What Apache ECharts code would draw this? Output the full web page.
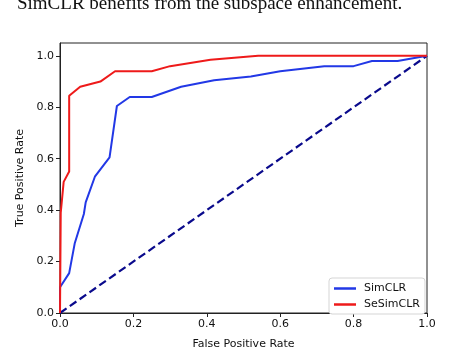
<!DOCTYPE html>
<html><head><meta charset="utf-8">
<script src="https://cdn.jsdelivr.net/npm/echarts@6/dist/echarts.min.js"></script>
<style>html,body{margin:0;padding:0;background:#fff}#c{width:474px;height:355px}</style>
</head><body><div id="c"></div>
<script>
const captionText = 'SimCLR benefits from the subspace enhancement.';
const seriesNames = ['SimCLR', 'SeSimCLR'];
const xTicks = [0, 0.2, 0.4, 0.6, 0.8, 1.0];
const yTicks = [0, 0.2, 0.4, 0.6, 0.8, 1.0];
const simclrFPR = [0, 0, 0.025, 0.04, 0.065, 0.07, 0.095, 0.135, 0.155, 0.19, 0.25, 0.33, 0.42, 0.52, 0.6, 0.72, 0.8, 0.85, 0.92, 1.0];
const simclrTPR = [0, 0.1, 0.155, 0.27, 0.385, 0.43, 0.53, 0.605, 0.805, 0.84, 0.84, 0.88, 0.905, 0.92, 0.94, 0.96, 0.96, 0.98, 0.98, 1.0];
const sesimFPR = [0, 0.002, 0.01, 0.025, 0.025, 0.055, 0.11, 0.15, 0.25, 0.30, 0.41, 0.54, 1.0];
const sesimTPR = [0, 0.39, 0.51, 0.55, 0.845, 0.88, 0.90, 0.94, 0.94, 0.96, 0.985, 1.0, 1.0];
const chanceFPR = [0, 1];
const chanceTPR = [0, 1];

const zip = (a, b) => a.map((v, i) => [v, b[i]]);
const font = 'DejaVu Sans';
const chart = echarts.init(document.getElementById('c'), null, {renderer: 'canvas'});
chart.setOption({
  animation: false,
  backgroundColor: '#fff',
  graphic: [{
    type: 'text', left: 17, top: -5,
    style: {text: captionText, font: '19px "Liberation Serif"', fill: '#111'}
  }],
  grid: {left: 60, right: 47, top: 43, bottom: 39, show: true, borderColor: '#222', borderWidth: 1},
  legend: {
    data: seriesNames, orient: 'vertical', left: 329, top: 278,
    padding: [5, 5, 4, 5], itemGap: 5, itemWidth: 22, itemHeight: 2.5, icon: 'rect',
    borderColor: '#d5d5d5', borderWidth: 1, borderRadius: 3, backgroundColor: '#fff',
    textStyle: {fontFamily: font, fontSize: 11, color: '#111', padding: [0, 0, 0, 3]}
  },
  xAxis: {
    type: 'value', min: 0, max: 1,
    name: 'False Positive Rate', nameLocation: 'middle', nameGap: 26,
    nameTextStyle: {fontFamily: font, fontSize: 11, color: '#111'},
    axisLine: {show: true, onZero: false, lineStyle: {color: '#222', width: 1}},
    axisTick: {show: true, length: 4, customValues: xTicks, lineStyle: {color: '#222'}},
    axisLabel: {customValues: xTicks, formatter: v => v.toFixed(1), fontFamily: font, fontSize: 11, color: '#111', margin: 6},
    splitLine: {show: false}
  },
  yAxis: {
    type: 'value', min: 0, max: 1.05,
    name: 'True Positive Rate', nameLocation: 'middle', nameGap: 33,
    nameTextStyle: {fontFamily: font, fontSize: 11, color: '#111'},
    axisLine: {show: true, onZero: false, lineStyle: {color: '#222', width: 1}},
    axisTick: {show: true, length: 4, customValues: yTicks, lineStyle: {color: '#222'}},
    axisLabel: {customValues: yTicks, formatter: v => v.toFixed(1), fontFamily: font, fontSize: 11, color: '#111', margin: 6},
    splitLine: {show: false}
  },
  series: [
    {name: seriesNames[0], type: 'line', data: zip(simclrFPR, simclrTPR), showSymbol: false, symbol: 'none',
     lineStyle: {color: '#2238e6', width: 2}, itemStyle: {color: '#2238e6'}, z: 3},
    {name: seriesNames[1], type: 'line', data: zip(sesimFPR, sesimTPR), showSymbol: false, symbol: 'none',
     lineStyle: {color: '#ee1a1a', width: 2}, itemStyle: {color: '#ee1a1a'}, z: 4},
    {name: 'chance', type: 'line', data: zip(chanceFPR, chanceTPR), showSymbol: false, symbol: 'none',
     lineStyle: {color: '#0a0a8c', width: 2.2, type: [8, 4]}, z: 2}
  ]
});
</script></body></html>
